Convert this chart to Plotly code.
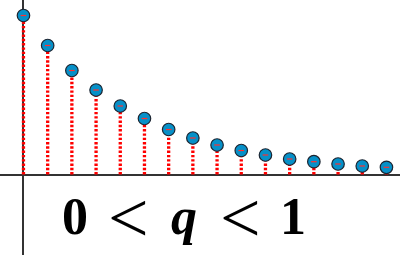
import plotly.graph_objects as go

n_index = list(range(16))
values = [159, 129, 104, 84.5, 68.5, 56, 45, 36.5, 29.5, 24, 19.5, 15.5, 12.8, 10.5, 8.5, 7.2]
label_parts = ["<b>0</b>", "&lt;", "<b><i>q</i></b>", "&lt;", "<b>1</b>"]
label_sizes = [52, 72, 52, 72, 52]
label_centers_px = [75, 128.3, 184, 240, 293.3]
label_middles_px = [216.4, 217.5, 216.4, 217.5, 216.4]

W, H = 400, 255

stem_x, stem_y = [], []
for n, v in zip(n_index, values):
    stem_x += [n, n, None]
    stem_y += [0, v, None]

fig = go.Figure()
fig.add_trace(go.Scatter(x=stem_x, y=stem_y, mode="lines",
                         line=dict(color="#ff0000", width=3.3, dash="2.4px,1.9px"),
                         hoverinfo="skip", showlegend=False))
fig.add_trace(go.Scatter(x=n_index, y=values, mode="markers",
                         marker=dict(size=12.5, color="#0690c8",
                                     line=dict(color="#1c2430", width=1.2)),
                         showlegend=False))
fig.add_trace(go.Scatter(x=n_index, y=values, mode="markers",
                         marker=dict(size=4, symbol="line-ew", color="#ff0000",
                                     line=dict(color="#ff3030", width=1.2)),
                         showlegend=False, hoverinfo="skip"))

for txt, sz, cx, cy in zip(label_parts, label_sizes, label_centers_px, label_middles_px):
    fig.add_annotation(xref="paper", yref="paper", x=cx / W, y=1 - cy / H,
                       xanchor="center", yanchor="middle", showarrow=False,
                       text=txt, font=dict(family="Liberation Serif", size=sz,
                                           color="#000000", weight="normal"))

fig.update_layout(width=W, height=H, margin=dict(l=0, r=0, t=0, b=0),
                  paper_bgcolor="white", plot_bgcolor="white",
                  xaxis=dict(range=[-0.97, 15.56], showgrid=False, showticklabels=False,
                             zeroline=True, zerolinecolor="#333333", zerolinewidth=1.5,
                             fixedrange=True),
                  yaxis=dict(range=[-80.5, 174.5], showgrid=False, showticklabels=False,
                             zeroline=True, zerolinecolor="#333333", zerolinewidth=1.5,
                             fixedrange=True))
fig.write_html("out.html")
